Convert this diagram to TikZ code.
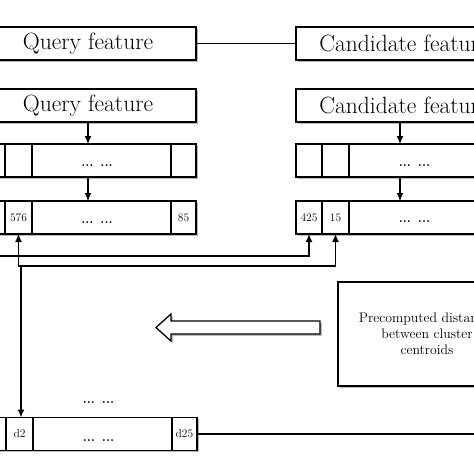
\documentclass[tikz,border=0pt]{standalone}
\usetikzlibrary{shadows,arrows.meta}
\begin{document}
\begin{tikzpicture}[x=1pt,y=-1pt,
  box/.style={draw, line width=1.3pt, fill=white, rectangle, inner sep=0pt, outer sep=0pt, minimum height=33pt,
    drop shadow={shadow xshift=1.8pt, shadow yshift=-1.8pt, fill=black!50, opacity=0.55}},
  title/.style={box, minimum width=216pt, font=\fontsize{23.5}{27}\selectfont},
  cell/.style={box, font=\fontsize{11.5}{13}\selectfont},
  dotstext/.style={anchor=base, inner sep=0pt, font=\fontsize{13}{15}\selectfont\bfseries},
  conn/.style={line width=1.2pt},
  arr/.style={conn, -{Latex[length=8pt,width=7pt]}},
]
\useasboundingbox (0,0) rectangle (474,474);
\clip (0,0) rectangle (474,474);

% title rows
\node[title] (qa) at (88,43.5) {Query feature};
\node[title] (ca) at (404,43.5) {Candidate feature};
\draw[conn] (qa) -- (ca);
\node[title] (qb) at (88,105.5) {Query feature};
\node[title] (cb) at (404,105.5) {Candidate feature};

% row C
\node[cell, minimum width=26pt] (lc1) at (-8,160.5) {};
\node[cell, minimum width=27pt] (lc2) at (18.5,160.5) {};
\node[cell, minimum width=139pt] (lc3) at (101.5,160.5) {};
\node[cell, minimum width=25pt] (lc4) at (183.5,160.5) {};
\node[cell, minimum width=26pt] (rc1) at (309,160.5) {};
\node[cell, minimum width=27pt] (rc2) at (335.5,160.5) {};
\node[cell, minimum width=139pt] (rc3) at (418.5,160.5) {};
\node[cell, minimum width=25pt] (rc4) at (500.5,160.5) {};
\node[dotstext] (dlc) at (97,166) {...\hspace{7pt}...};
\node[dotstext] (drc) at (414.5,166) {...\hspace{7pt}...};

% row D
\node[cell, minimum width=26pt] (ld1) at (-8,217.5) {};
\node[cell, minimum width=27pt] (ld2) at (18.5,217.5) {576};
\node[cell, minimum width=139pt] (ld3) at (101.5,217.5) {};
\node[cell, minimum width=25pt] (ld4) at (183.5,217.5) {85};
\node[cell, minimum width=26pt] (rd1) at (309,217.5) {425};
\node[cell, minimum width=27pt] (rd2) at (335.5,217.5) {15};
\node[cell, minimum width=139pt] (rd3) at (418.5,217.5) {};
\node[cell, minimum width=25pt] (rd4) at (500.5,217.5) {};
\node[dotstext] (dld) at (97,223.5) {...\hspace{7pt}...};
\node[dotstext] (drd) at (414.5,222) {...\hspace{7pt}...};

% vertical arrows
\draw[arr] (qb.south) -- (qb.south |- lc3.north);
\draw[arr] (qb.south |- lc3.south) -- (qb.south |- ld3.north);
\draw[arr] ([xshift=-4pt]cb.south) -- ([xshift=-4pt]cb.south |- rc3.north);
\draw[arr] ([xshift=-4pt]cb.south |- rc3.south) -- ([xshift=-4pt]cb.south |- rd3.north);

% bottom row
\node[cell, minimum width=26pt] (be1) at (-7,434) {};
\node[cell, minimum width=27pt] (be2) at (19.5,434) {d2};
\node[cell, minimum width=139pt] (be3) at (102.5,434) {};
\node[cell, minimum width=25pt] (be4) at (184.5,434) {d25};
\node[dotstext] (dbe) at (98.5,441) {...\hspace{7pt}...};
\node[dotstext] (dtop) at (98.5,403) {...\hspace{7pt}...};

% connectors
\coordinate (l1) at (-10,256);
\draw[arr] (l1) -| (rd1.south);
\coordinate (l2) at (0,266);
\draw[conn, {Latex[length=8pt,width=7pt]}-{Latex[length=8pt,width=7pt]}] (ld2.south) |- (l2 -| rd2.south) -- (rd2.south);
\coordinate (l3) at (21,266);
\draw[arr] (l3) -- (l3 |- be2.north);
\coordinate (l4) at (490,434);
\draw[conn] (be4.east) -- (l4);

% hollow arrow
\draw[line width=1.3pt, fill=white, line join=miter,
  drop shadow={shadow xshift=1.8pt, shadow yshift=-1.8pt, fill=black!50, opacity=0.55}]
  (320,321) -- (171,321) -- (171,314) -- (156,327.5) -- (171,341) -- (171,334) -- (320,334) -- cycle;

% precomputed box
\node[box, minimum width=178pt, minimum height=104pt, align=center, font=\fontsize{13.8}{16}\selectfont] (pre) at (427,334)
  {Precomputed distances\\between cluster\\centroids};
\end{tikzpicture}
\end{document}
